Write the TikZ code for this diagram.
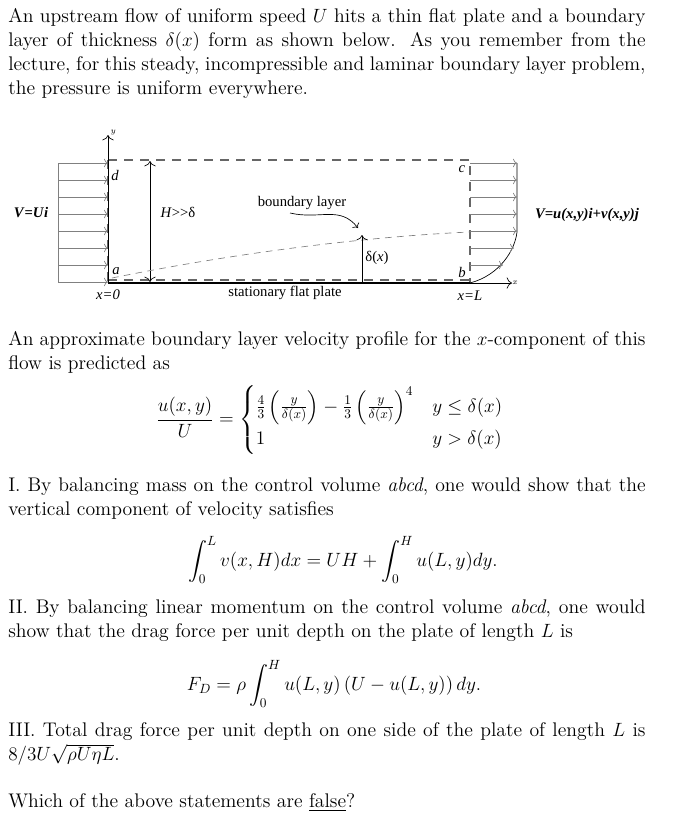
\documentclass[tikz,border=0pt]{standalone}
\usepackage{amsmath,amssymb}
\usepackage{fontspec}
\usetikzlibrary{arrows.meta}
\newfontfamily\tnr{Liberation Serif}
\begin{document}
\begin{tikzpicture}[x=0.75pt,y=-0.75pt,
  txt/.style={anchor=north west,inner sep=0pt,text width=478pt,align=justify,font=\fontsize{14.8}{18}\selectfont},
  eq/.style={inner sep=0pt,font=\fontsize{14.2}{18}\selectfont},
  lab/.style={inner sep=0pt,font=\tnr\fontsize{11}{12}\selectfont},
  fl/.style={gray,line width=0.5pt,-{To[length=3pt]}},
  dsh/.style={gray!80!black,dash pattern=on 7pt off 5pt,line width=0.9pt}]
\useasboundingbox (0,0) rectangle (688,840);
\node[txt] (p1) at (8,8) {An upstream flow of uniform speed $U$ hits a thin flat plate and a boundary layer of thickness $\delta(x)$ form as shown below. As you remember from the lecture, for this steady, incompressible and laminar boundary layer problem, the pressure is uniform everywhere.};
% figure
\coordinate (A) at (108,283); \coordinate (B) at (470,283);
\coordinate (D) at (108,160); \coordinate (C) at (470,160);
\draw[gray,line width=0.5pt] (58,163) -- (58,283);
\foreach \y in {163,180,...,283} \draw[fl] (58,\y) -- (108,\y);
\draw[dsh] (D) -- (C) -- (B);
\draw[dsh] (D) -- (A);
\draw[dsh] (108,280) -- (470,280);
\draw[line width=2pt] (A) -- (B);
\draw[line width=0.5pt,-{To[length=4pt]}] (A) -- (108,135) node[above,lab,font=\tnr\fontsize{6}{6}\selectfont,xshift=4pt] {$y$};
\draw[line width=0.5pt,-{To[length=4pt]}] (B) -- (512,283) node[right,lab,font=\tnr\fontsize{6}{6}\selectfont] {$x$};
\draw[line width=0.5pt,{To[length=4pt]}-{To[length=4pt]}] (150,161) -- (150,282);
\draw[gray,line width=0.5pt,dash pattern=on 5pt off 4pt] (112,278) .. controls (250,250) and (380,236) .. (470,232);
\draw[line width=0.5pt,-{To[length=4pt]}] (362,283) -- (362,235);
\draw[line width=0.5pt,-{To[length=3pt]}] (290,213) .. controls (320,220) and (340,205) .. (358,228);
% right profile
\draw[line width=0.5pt] (470,283) .. controls (500,275) and (515,250) .. (517,232) -- (517,163);
\foreach \y/\l in {163/47,180/47,197/47,214/47,231/47,248/44,265/33} \draw[fl] (470,\y) -- ++(\l,0);
\node[lab] (d) at (115,175) {\textit{d}};
\node[lab] (a) at (116,271) {\textit{a}};
\node[lab] (c) at (462,169) {\textit{c}};
\node[lab] (b) at (462,272) {\textit{b}};
\node[lab] (vu) at (31,213) {\textbf{\textit{V}=\textit{U}\textit{i}}};
\node[lab] (h) at (178,212) {\textit{H}>>δ};
\node[lab] (bl) at (302,203) {boundary layer};
\node[lab] (dx) at (377,258) {δ(\textit{x})};
\node[lab] (x0) at (108,295) {\textit{x=0}};
\node[lab] (sp) at (285,293) {stationary flat plate};
\node[lab] (xl) at (470,296) {\textit{x=L}};
\node[lab] (vr) at (587,215) {\textbf{\textit{V=u(x,y)i+v(x,y)j}}};
% text
\node[txt] (p2) at (8,331) {An approximate boundary layer velocity profile for the $x$-component of this flow is predicted as};
\node[eq] (e1) at (330,420) {$\dfrac{u(x,y)}{U}=\begin{cases}\frac{4}{3}\left(\frac{y}{\delta(x)}\right)-\frac{1}{3}\left(\frac{y}{\delta(x)}\right)^{4} & y\le\delta(x)\\ 1 & y>\delta(x)\end{cases}$};
\node[txt] (p3) at (8,478) {I. By balancing mass on the control volume \textit{abcd}, one would show that the vertical component of velocity satisfies};
\node[eq] (e2) at (343,560) {$\displaystyle\int_0^L v(x,H)dx=UH+\int_0^H u(L,y)dy.$};
\node[txt] (p4) at (8,600) {II. By balancing linear momentum on the control volume \textit{abcd}, one would show that the drag force per unit depth on the plate of length $L$ is};
\node[eq] (e3) at (334,684) {$\displaystyle F_D=\rho\int_0^H u(L,y)\left(U-u(L,y)\right)dy.$};
\node[txt] (p5) at (8,722) {III. Total drag force per unit depth on one side of the plate of length $L$ is $8/3U\sqrt{\rho U\eta L}$.};
\node[txt] (p6) at (8,793) {Which of the above statements are \underline{false}?};
\end{tikzpicture}
\end{document}
